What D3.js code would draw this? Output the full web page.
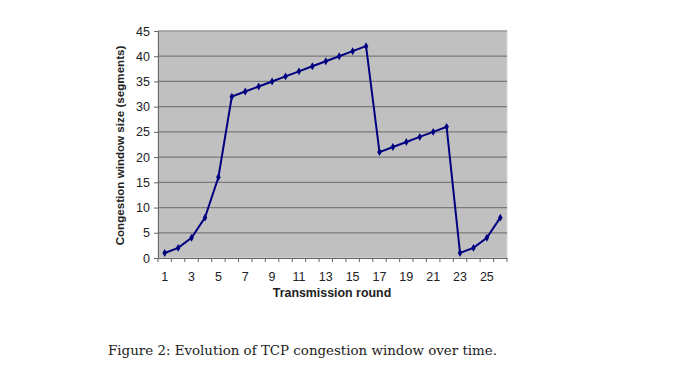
<!DOCTYPE html>
<html><head><meta charset="utf-8">
<script src="https://cdn.jsdelivr.net/npm/d3@7"></script>
<style>body{margin:0;background:#fff;} svg{display:block;}</style>
</head><body>
<svg id="c" width="700" height="367"></svg>
<script>
const rounds = d3.range(1, 27);
const cwnd = [1,2,4,8,16,32,33,34,35,36,37,38,39,40,41,42,21,22,23,24,25,26,1,2,4,8];
const yTicks = [0,5,10,15,20,25,30,35,40,45];
const xTickLabels = [1,3,5,7,9,11,13,15,17,19,21,23,25];

const svg = d3.select("#c");
const L = 158, R = 507, T = 31, B = 258;
const FONT = "Liberation Sans, Arial, sans-serif";
const x = d3.scaleBand().domain(rounds).range([L, R]);
const y = d3.scaleLinear().domain([0, 45]).range([B, T]);
const cx = d => x(d) + x.bandwidth() / 2;

svg.append("rect").attr("x", L).attr("y", T).attr("width", R - L).attr("height", B - T)
  .attr("fill", "#c0c0c0").attr("stroke", "#d8d8d8").attr("stroke-width", 1);

svg.append("g").selectAll("line").data(yTicks.filter(v => v > 0)).join("line")
  .attr("x1", L).attr("x2", R).attr("y1", d => y(d)).attr("y2", d => y(d))
  .attr("stroke", "#7a7a7a").attr("stroke-width", 1.2);

// y axis
const ya = svg.append("g").attr("transform", `translate(${L},0)`)
  .call(d3.axisLeft(y).tickValues(yTicks).tickSize(4).tickPadding(4));
ya.select(".domain").attr("stroke", "#666");
ya.selectAll(".tick line").attr("stroke", "#666");
ya.selectAll("text").attr("font-family", FONT).attr("font-size", 12.5).attr("fill", "#222");

// x axis
const xa = svg.append("g").attr("transform", `translate(0,${B})`)
  .call(d3.axisBottom(x).tickValues([]).tickSize(0));
xa.select(".domain").attr("stroke", "#666");
xa.append("g").selectAll("line").data(d3.range(0, 27)).join("line")
  .attr("x1", i => L + i * x.step()).attr("x2", i => L + i * x.step())
  .attr("y1", 0).attr("y2", 4).attr("stroke", "#666");
xa.append("g").selectAll("text").data(xTickLabels).join("text")
  .attr("x", d => cx(d)).attr("y", 23).attr("text-anchor", "middle")
  .attr("font-family", FONT).attr("font-size", 12.5).attr("fill", "#222")
  .text(d => d);

// line
const pts = rounds.map((r, i) => [cx(r), y(cwnd[i])]);
svg.append("path").attr("d", d3.line()(pts)).attr("fill", "none")
  .attr("stroke", "#000080").attr("stroke-width", 2);
svg.append("g").selectAll("path").data(pts).join("path")
  .attr("transform", d => `translate(${d[0]},${d[1]})`)
  .attr("d", d3.symbol(d3.symbolDiamond, 18)())
  .attr("fill", "#000080");

// titles
svg.append("text").attr("x", 332).attr("y", 297).attr("text-anchor", "middle")
  .attr("font-family", FONT).attr("font-weight", "bold").attr("font-size", 12.4)
  .attr("fill", "#222").text("Transmission round");
svg.append("text").attr("transform", `translate(124,${(T + B) / 2 + 1}) rotate(-90)`).attr("text-anchor", "middle")
  .attr("font-family", FONT).attr("font-weight", "bold").attr("font-size", 11.6)
  .attr("fill", "#222").text("Congestion window size (segments)");

svg.append("text").attr("x", 302.5).attr("y", 355).attr("text-anchor", "middle")
  .attr("font-family", "DejaVu Serif, Liberation Serif, serif").attr("font-size", 13.4)
  .attr("fill", "#222").text("Figure 2: Evolution of TCP congestion window over time.");
</script>
</body></html>
